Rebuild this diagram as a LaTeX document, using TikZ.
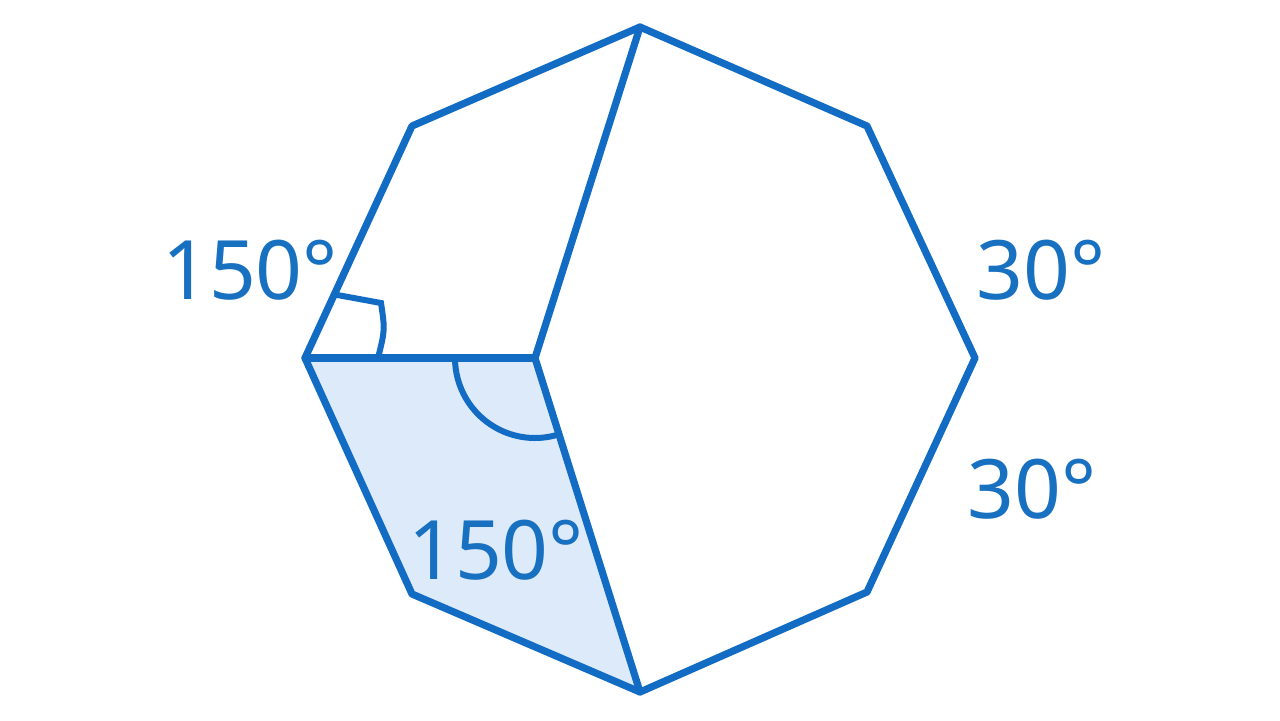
\documentclass[tikz,border=0pt]{standalone}
\usepackage{fontspec}
\setmainfont{Noto Sans}
\usetikzlibrary{calc}
\definecolor{azul}{RGB}{18,108,196}
\definecolor{azulclaro}{RGB}{221,234,250}
\definecolor{azultexto}{RGB}{24,112,192}
\tikzset{
  lado/.style={draw=azul, line width=3.6pt, line join=round, line cap=round},
  marca/.style={draw=azul, line width=3pt},
  grados/.style={text=azultexto, font=\fontsize{41}{50}\selectfont, inner sep=0pt}
}
\begin{document}
\begin{tikzpicture}[x=0.5pt, y=-0.5pt]
    \useasboundingbox (0,0) rectangle (1280,720);

      % Vertices del octagono
      \coordinate (A) at (640,27);
      \coordinate (B) at (867,126);
      \coordinate (C) at (975,358);
      \coordinate (D) at (867,592);
      \coordinate (E) at (640,692);
      \coordinate (F) at (412,594);
      \coordinate (G) at (305,358);
      \coordinate (H) at (412,126);
      \coordinate (P) at (535,358);

      % Region sombreada
      \fill[azulclaro] (G) -- (P) -- (E) -- (F) -- cycle;

      % Marcas de angulo
      \draw[marca] ($(G)!0.274!(H)$) -- (381,303) .. controls (385,330) .. (378,358);
      \draw[marca] ($(P)+(-80,0)$) arc[start angle=180, end angle=287.5, radius=40pt];

      % Contorno y diagonales
      \draw[lado] (A) -- (B) -- (C) -- (D) -- (E) -- (F) -- (G) -- (H) -- cycle;
      \draw[lado] (A) -- (P) -- (E);
      \draw[lado] (G) -- (P);

      % Etiquetas
      \node[grados] (t1) at (250,270) {150°};
      \node[grados] (t2) at (1041,270) {30°};
      \node[grados] (t3) at (1032,489) {30°};
      \node[grados] (t4) at (496,550) {150°};

    \end{tikzpicture}
\end{document}
